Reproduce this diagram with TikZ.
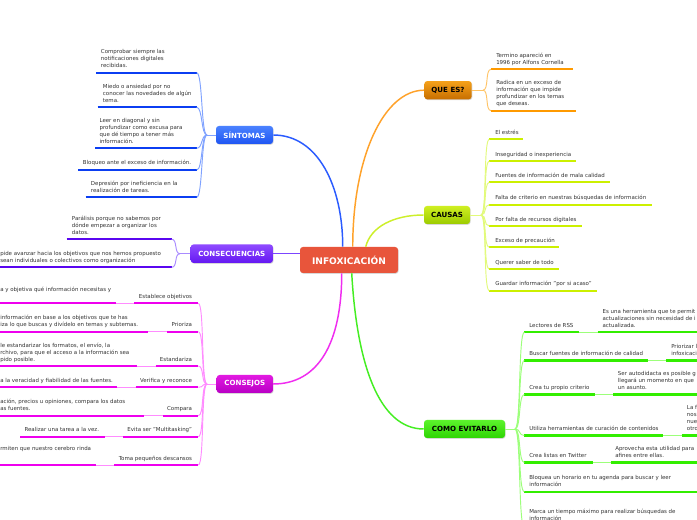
\documentclass[tikz,border=0pt]{standalone}
\usepackage{fontspec}
\setmainfont{DejaVu Sans}
\usetikzlibrary{shadows}
\definecolor{txtc}{HTML}{333333}
\definecolor{infc}{HTML}{E8553B}
\definecolor{bT}{HTML}{4A82FF}\definecolor{bB}{HTML}{1F55F2}
\definecolor{pT}{HTML}{8F4BFF}\definecolor{pB}{HTML}{6418F2}
\definecolor{mT}{HTML}{E21AE2}\definecolor{mB}{HTML}{B800C4}
\definecolor{oT}{HTML}{F5A11A}\definecolor{oB}{HTML}{C76E00}
\definecolor{yT}{HTML}{CFEF22}\definecolor{yB}{HTML}{9CCB00}
\definecolor{gT}{HTML}{5CF42C}\definecolor{gB}{HTML}{2ED404}
\definecolor{ubc}{HTML}{0B3EF2}\definecolor{upc}{HTML}{5A06F0}
\definecolor{umc}{HTML}{EE00EE}\definecolor{uoc}{HTML}{FF9A00}
\definecolor{uyc}{HTML}{CCF000}\definecolor{ugc}{HTML}{33EE00}
\definecolor{cbc}{HTML}{7FA2FF}\definecolor{cpc}{HTML}{A98BFF}
\definecolor{cmc}{HTML}{FF8CFF}\definecolor{coc}{HTML}{FFC466}
\definecolor{cyc}{HTML}{E2FA7A}\definecolor{cgc}{HTML}{9CFF7A}
\definecolor{bbc}{HTML}{2A5BFF}\definecolor{bpc}{HTML}{7B45FF}
\definecolor{bmc}{HTML}{F02CF0}\definecolor{boc}{HTML}{FFA22A}
\definecolor{byc}{HTML}{CDEF2A}\definecolor{bgc}{HTML}{44EE22}
\newcommand\smf{\fontsize{4.1}{5.25}\selectfont}
\newcommand\bxf{\bfseries\fontsize{5.3}{6}\selectfont}
\newcommand\ulin[5]{\coordinate (#2-a) at (#3,#5);\coordinate (#2-b) at (#4,#5);\draw[#1] (#2-a) -- (#2-b);}
\begin{document}
\begin{tikzpicture}[x=0.75pt,y=-0.75pt,
  tx/.style={inner sep=0, font=\smf, text=txtc, align=left, anchor=south west},
  txr/.style={inner sep=0, font=\smf, text=txtc, align=right, anchor=south east},
  box/.style={rounded corners=2.2pt, inner sep=0, font=\bxf, minimum height=13.5pt,
    drop shadow={shadow xshift=0.5pt, shadow yshift=-0.6pt, opacity=0.3}},
  ul/.style={line width=1.6pt},
  cn/.style={line width=0.7pt},
  br/.style={line width=1.1pt}]
\useasboundingbox (0,0) rectangle (697,520);
\fill[white] (0,0) rectangle (697,520);

% ---------- SINTOMAS children ----------
\node[tx] (s1t) at (100.7,70.2) {Comprobar siempre las\\notificaciones digitales\\recibidas.\strut};
\ulin{ul,ubc}{s1}{96}{196.7}{72.7}
\node[tx] (s2t) at (102.7,104.8) {Miedo o ansiedad por no\\conocer las novedades de algún\\tema.\strut};
\ulin{ul,ubc}{s2}{97.7}{196.7}{107.3}
\node[tx] (s3t) at (99.3,145.8) {Leer en diagonal y sin\\profundizar como excusa para\\que dé tiempo a tener más\\información.\strut};
\ulin{ul,ubc}{s3}{95}{196.7}{148.3}
\node[tx] (s4t) at (82.7,166.6) {Bloqueo ante el exceso de información.\strut};
\ulin{ul,ubc}{s4}{78.3}{196.7}{170}
\node[tx] (s5t) at (90.7,194.8) {Depresión por ineficiencia en la\\realización de tareas.\strut};
\ulin{ul,ubc}{s5}{85.7}{196.7}{197.3}

% ---------- CONSECUENCIAS children ----------
\node[tx] (c1t) at (71.7,236.8) {Parálisis porque no sabemos por\\dónde empezar a organizar los\\datos.\strut};
\ulin{ul,upc}{c1}{66.7}{171.7}{239.3}
\node[tx] (c2t) at (0,264.8) {pide avanzar hacia los objetivos que nos hemos propuesto\\sean individuales o colectivos como organización\strut};
\ulin{ul,upc}{c2}{0}{171.7}{267.3}

% ---------- CONSEJOS children ----------
\node[txr] (k1t) at (192.3,300.8) {Establece objetivos\strut};
\ulin{ul,umc}{k1}{134.3}{198.3}{303.3}
\node[tx,anchor=base west] (g1t) at (0,291.6) {a y objetiva qué información necesitas y};
\ulin{ul,umc}{g1}{0}{116}{303.3}
\node[txr] (k2t) at (192.3,329.2) {Prioriza\strut};
\ulin{ul,umc}{k2}{166.7}{198.3}{331.7}
\node[tx] (g2t) at (0,329.2) {información en base a los objetivos que te has\\iza lo que buscas y divídelo en temas y subtemas.\strut};
\ulin{ul,umc}{g2}{0}{148.3}{331.7}
\node[txr] (k3t) at (192.3,363.5) {Estandariza\strut};
\ulin{ul,umc}{k3}{155.7}{198.3}{366}
\node[tx] (g3t) at (0,363.5) {le estandarizar los formatos, el envío, la\\rchivo, para que el acceso a la información sea\\pido posible.\strut};
\ulin{ul,umc}{g3}{0}{136.7}{366}
\node[txr] (k4t) at (192.3,384.8) {Verifica y reconoce\strut};
\ulin{ul,umc}{k4}{135.7}{198.3}{387.3}
\node[tx] (g4t) at (0,384.8) {a la veracidad y fiabilidad de las fuentes.\strut};
\ulin{ul,umc}{g4}{0}{117.3}{387.3}
\node[txr] (k5t) at (192.3,413.2) {Compara\strut};
\ulin{ul,umc}{k5}{163.3}{198.3}{415.7}
\node[tx] (g5t) at (0,413.2) {ación, precios u opiniones, compara los datos\\as fuentes.\strut};
\ulin{ul,umc}{g5}{0}{144.3}{415.7}
\node[txr] (k6t) at (192.3,434.2) {Evita ser "Multitasking"\strut};
\ulin{ul,umc}{k6}{123.3}{198.3}{436.7}
\node[tx] (g6t) at (24.3,434.2) {Realizar una tarea a la vez.\strut};
\ulin{ul,umc}{g6}{20}{105}{436.7}
\node[txr] (k7t) at (192.3,462.5) {Toma pequeños descansos\strut};
\ulin{ul,umc}{k7}{114.3}{198.3}{465}
\node[tx,anchor=base west] (g7t) at (0,450.6) {rmiten que nuestro cerebro rinda};
\ulin{ul,umc}{g7}{0}{96}{465}
\foreach \n in {1,...,7} \draw[cn,cmc] (g\n-b) -- (k\n-a);

% ---------- QUE ES children ----------
\node[tx] (q1t) at (496,66.8) {Termino apareció en\\1996 por Alfons Cornella\strut};
\ulin{ul,uoc}{q1}{491}{572.7}{69.3}
\node[tx] (q2t) at (496,108.2) {Radica en un exceso de\\información que impide\\profundizar en los temas\\que deseas.\strut};
\ulin{ul,uoc}{q2}{491}{575.7}{110.7}

% ---------- CAUSAS children ----------
\node[tx] (a1t) at (495,136.8) {El estrés\strut};
\ulin{ul,uyc}{a1}{489.3}{523.3}{139.3}
\node[tx] (a2t) at (495,158.8) {Inseguridad o inexperiencia\strut};
\ulin{ul,uyc}{a2}{489.3}{576}{161.3}
\node[tx] (a3t) at (495,179.8) {Fuentes de información de mala calidad\strut};
\ulin{ul,uyc}{a3}{489.3}{610}{182.3}
\node[tx] (a4t) at (495,202.2) {Falta de criterio en nuestras búsquedas de información\strut};
\ulin{ul,uyc}{a4}{489.3}{651.7}{204.7}
\node[tx] (a5t) at (495,223.5) {Por falta de recursos digitales\strut};
\ulin{ul,uyc}{a5}{489.3}{581.7}{226}
\node[tx] (a6t) at (495,244.8) {Exceso de precaución\strut};
\ulin{ul,uyc}{a6}{489.3}{559}{247.3}
\node[tx] (a7t) at (495,266.5) {Querer saber de todo\strut};
\ulin{ul,uyc}{a7}{489.3}{559}{269}
\node[tx] (a8t) at (495,288.2) {Guardar información "por si acaso"\strut};
\ulin{ul,uyc}{a8}{489.3}{596.7}{290.7}

% ---------- COMO EVITARLO children ----------
\node[tx] (e1t) at (529,329.8) {Lectores de RSS\strut};
\ulin{ul,ugc}{e1}{524.3}{579}{332.3}
\node[tx] (h1t) at (602.3,329.8) {Es una herramienta que te permit\\actualizaciones sin necesidad de i\\actualizada.\strut};
\ulin{ul,ugc}{h1}{597.7}{697}{332.3}
\node[tx] (e2t) at (529,358) {Buscar fuentes de información de calidad\strut};
\ulin{ul,ugc}{e2}{524.3}{647.7}{360.5}
\node[tx] (h2t) at (671,358) {Priorizar l\\infoxicaci\strut};
\ulin{ul,ugc}{h2}{666}{697}{360.5}
\node[tx] (e3t) at (529,392) {Crea tu propio criterio\strut};
\ulin{ul,ugc}{e3}{524.3}{595}{394.5}
\node[tx] (h3t) at (617.7,392) {Ser autodidacta es posible g\\llegará un momento en que\\un asunto.\strut};
\ulin{ul,ugc}{h3}{613.3}{697}{394.5}
\node[tx] (e4t) at (529,433) {Utiliza herramientas de curación de contenidos\strut};
\ulin{ul,ugc}{e4}{524.3}{663.3}{435.5}
\node[tx] (h4t) at (686.7,433) {La f\\nos\\nue\\otro\strut};
\ulin{ul,ugc}{h4}{681.7}{697}{435.5}
\node[tx] (e5t) at (529,460) {Crea listas en Twitter\strut};
\ulin{ul,ugc}{e5}{524.3}{592.7}{462.5}
\node[tx] (h5t) at (615,460) {Aprovecha esta utilidad para\\afines entre ellas.\strut};
\ulin{ul,ugc}{h5}{610.7}{697}{462.5}
\node[tx] (e6t) at (529,489.2) {Bloquea un horario en tu agenda para buscar y leer\\información\strut};
\ulin{ul,ugc}{e6}{524.3}{697}{491.7}
\node[tx,anchor=north west] (e7t) at (529,508.4) {\strut Marca un tiempo máximo para realizar búsquedas de\\información};
\coordinate (e7-a) at (524.3,527);
\foreach \n in {1,...,5} \draw[cn,cgc] (e\n-b) -- (h\n-a);

% ---------- main boxes ----------
\node[box, fill=infc, text=white, minimum width=73.5pt, minimum height=19.5pt,
  font=\bfseries\fontsize{6.8}{8}\selectfont] (inf) at (349,260) {INFOXICACIÓN};
\node[box, top color=bT, bottom color=bB, text=white, minimum width=42.75pt] (sin) at (244.5,135) {SÍNTOMAS};
\node[box, top color=pT, bottom color=pB, text=white, minimum width=61.7pt, minimum height=13.9pt] (cons) at (231.8,253.7) {CONSECUENCIAS};
\node[box, top color=mT, bottom color=mB, text=white, minimum width=42.2pt] (cjs) at (244.8,384) {CONSEJOS};
\node[box, top color=oT, bottom color=oB, text=black, minimum width=35.5pt, minimum height=13.7pt] (que) at (448,90.2) {QUE ES?};
\node[box, top color=yT, bottom color=yB, text=black, minimum width=34.5pt] (cau) at (447,215) {CAUSAS};
\node[box, top color=gT, bottom color=gB, text=black, minimum width=60.75pt] (com) at (464.5,429) {COMO EVITARLO};

% ---------- junctions and child connectors ----------
\coordinate (sj) at (207,135);
\draw[cn,cbc] (sin.west) -- (sj);
\foreach \n in {1,...,5} \draw[cn,cbc] (sj) .. controls +(-6,0) and +(6,0) .. (s\n-b);
\coordinate (cj) at (180,253.7);
\draw[cn,cpc] (cons.west) -- (cj);
\foreach \n in {1,2} \draw[cn,cpc] (cj) .. controls +(-6,0) and +(6,0) .. (c\n-b);
\coordinate (kj) at (207,384);
\draw[cn,cmc] (cjs.west) -- (kj);
\foreach \n in {1,...,7} \draw[cn,cmc] (kj) .. controls +(-6,0) and +(6,0) .. (k\n-b);
\coordinate (qj) at (483,90.2);
\draw[cn,coc] (que.east) -- (qj);
\foreach \n in {1,2} \draw[cn,coc] (qj) .. controls +(6,0) and +(-6,0) .. (q\n-a);
\coordinate (aj) at (481,215);
\draw[cn,cyc] (cau.east) -- (aj);
\foreach \n in {1,...,8} \draw[cn,cyc] (aj) .. controls +(6,0) and +(-6,0) .. (a\n-a);
\coordinate (ej) at (515,429);
\draw[cn,cgc] (com.east) -- (ej);
\foreach \n in {1,...,7} \draw[cn,cgc] (ej) .. controls +(6,0) and +(-6,0) .. (e\n-a);

% ---------- main branches ----------
\coordinate (t1) at ([xshift=32.25pt]inf.north west);
\coordinate (t2) at ([xshift=39.75pt]inf.north west);
\coordinate (t3) at ([xshift=49.5pt]inf.north west);
\coordinate (b1) at ([xshift=31.5pt]inf.south west);
\coordinate (b2) at ([xshift=39pt]inf.south west);
\draw[br,bbc] (sin.east) .. controls +(45,0) and +(0,-60) .. (t1);
\draw[br,boc] (t2) .. controls +(0,-90) and +(-40,0) .. (que.west);
\draw[br,byc] (t3) .. controls +(5,-20) and +(-30,0) .. (cau.west);
\draw[br,bpc] (cons.east) -- (cons.east -| inf.west);
\draw[br,bmc] (b1) .. controls +(0,70) and +(45,0) .. (cjs.east);
\draw[br,bgc] (b2) .. controls +(5,90) and +(-45,0) .. (com.west);
\end{tikzpicture}
\end{document}
